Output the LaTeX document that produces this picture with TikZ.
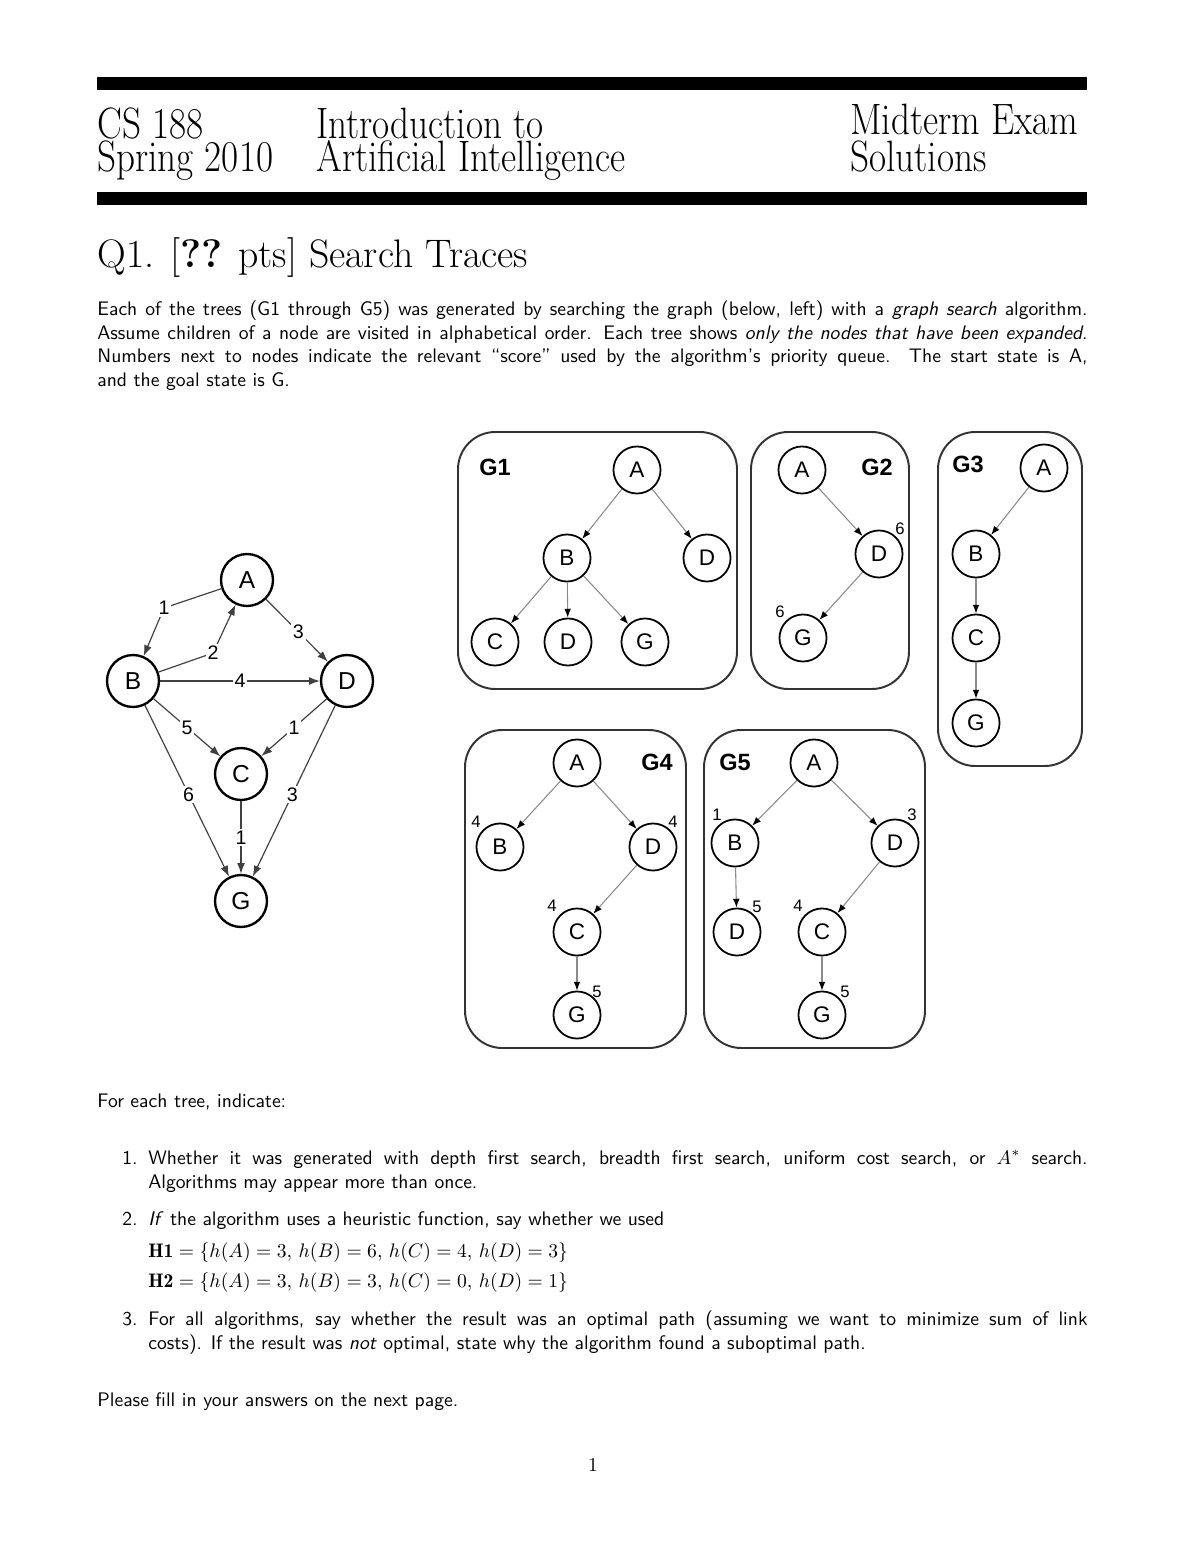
\documentclass[tikz,border=0pt]{standalone}
\usepackage{graphicx}
\usepackage{fontspec}
\newfontfamily\hv{Liberation Sans}
\usetikzlibrary{arrows.meta}
\newcommand\hdr[1]{\scalebox{0.845}[1]{\fontsize{22.4}{26}\selectfont #1}}
\begin{document}
\begin{tikzpicture}[x=0.51pt,y=-0.51pt,
  txt/.style={anchor=base west, inner sep=0, font=\sffamily\fontsize{10}{12}\selectfont},
  hd/.style={anchor=base west, inner sep=0},
  gn/.style={circle, draw=black, line width=1.2pt, minimum size=26.5pt, inner sep=0, font=\hv\fontsize{12.5}{12.5}\selectfont},
  tn/.style={circle, draw=black, line width=0.9pt, minimum size=24pt, inner sep=0, font=\hv\fontsize{11.5}{11.5}\selectfont},
  ge/.style={draw=black!75, line width=0.6pt, -{Latex[length=5.5pt,width=4pt]}},
  te/.style={draw=black!45, line width=0.55pt, -{Latex[length=4.5pt,width=3.4pt,color=black]}},
  lbl/.style={fill=white, inner sep=1pt, font=\hv\fontsize{10}{10}\selectfont},
  sc/.style={inner sep=0, font=\hv\fontsize{8.5}{8.5}\selectfont},
  gbox/.style={draw=black!80, line width=1pt, rounded corners=19pt},
  glab/.style={inner sep=0, font=\hv\bfseries\fontsize{12}{12}\selectfont}]
\useasboundingbox (0,0) rectangle (1200,1553);
\fill[white] (0,0) rectangle (1200,1553);

% header
\fill (97,77) rectangle (1087,90);
\fill (97,192) rectangle (1087,205);
\node[hd] (h1) at (97,139) {\hdr{CS 188}};
\node[hd] (h2) at (97,172) {\hdr{Spring 2010}};
\node[hd] (h3) at (316,139) {\hdr{Introduction to}};
\node[hd] (h4) at (316,172) {\hdr{Artificial Intelligence}};
\node[hd] (h5) at (850,135) {\hdr{Midterm Exam}};
\node[hd] (h6) at (850,172) {\hdr{Solutions}};

% title
\node[hd] (title) at (97,267) {\fontsize{20.3}{25}\selectfont Q1. [\textbf{??} pts] Search Traces};

% intro paragraph
\node[txt] (p1) at (97,315) {\hbox to 505pt{Each of the trees (G1 through G5) was generated by searching the graph (below, left) with a \textit{graph search} algorithm.}};
\node[txt] (p2) at (97,339) {\hbox to 505pt{Assume children of a node are visited in alphabetical order. Each tree shows \textit{only the nodes that have been expanded}.}};
\node[txt] (p3) at (97,362) {\hbox to 505pt{Numbers next to nodes indicate the relevant ``score'' used by the algorithm's priority queue. The start state is A,}};
\node[txt] (p4) at (97,386) {and the goal state is G.};

% left graph
\node[gn] (A) at (247,580) {A};
\node[gn] (B) at (133,681) {B};
\node[gn] (D) at (347,681) {D};
\node[gn] (C) at (241,774) {C};
\node[gn] (G) at (241,901) {G};
\coordinate (k1) at (164,608);
\coordinate (k2) at (213,653);
\draw[ge] (A) -- (k1) -- (B);
\node[lbl] (l1) at (k1) {1};
\draw[ge] (B) -- (k2) -- (A);
\node[lbl] (l2) at (k2) {2};
\draw[ge] (A) -- node[lbl, pos=0.52] (l3) {3} (D);
\draw[ge] (B) -- node[lbl, pos=0.5] (l4) {4} (D);
\draw[ge] (B) -- node[lbl, pos=0.5] (l5) {5} (C);
\draw[ge] (D) -- node[lbl, pos=0.5] (l6) {1} (C);
\draw[ge] (B) -- node[lbl, pos=0.52] (l7) {6} (G);
\draw[ge] (C) -- node[lbl, pos=0.5] (l8) {1} (G);
\draw[ge] (D) -- node[lbl, pos=0.52] (l9) {3} (G);

% G1
\draw[gbox] (458,432) rectangle (737,689);
\node[glab] (g1l) at (495,467) {G1};
\node[tn] (a1) at (637,470) {A};
\node[tn] (b1) at (567,558) {B};
\node[tn] (d1) at (707,558) {D};
\node[tn] (c1) at (495,642) {C};
\node[tn] (e1) at (568,642) {D};
\node[tn] (f1) at (645,642) {G};
\draw[te] (a1) -- (b1);
\draw[te] (a1) -- (d1);
\draw[te] (b1) -- (c1);
\draw[te] (b1) -- (e1);
\draw[te] (b1) -- (f1);

% G2
\draw[gbox] (751,432) rectangle (909,689);
\node[glab] (g2l) at (877,467) {G2};
\node[tn] (a2) at (802,470) {A};
\node[tn] (d2) at (879,554) {D};
\node[tn] (f2) at (803,638) {G};
\node[sc] (s21) at (900,529) {6};
\node[sc] (s22) at (780,612) {6};
\draw[te] (a2) -- (d2);
\draw[te] (d2) -- (f2);

% G3
\draw[gbox] (938,432) rectangle (1082,766);
\node[glab] (g3l) at (968,464) {G3};
\node[tn] (a3) at (1044,468) {A};
\node[tn] (b3) at (976,554) {B};
\node[tn] (c3) at (976,638) {C};
\node[tn] (f3) at (976,723) {G};
\draw[te] (a3) -- (b3);
\draw[te] (b3) -- (c3);
\draw[te] (c3) -- (f3);

% G4
\draw[gbox] (465,730) rectangle (686,1048);
\node[glab] (g4l) at (657,762) {G4};
\node[tn] (a4) at (577,763) {A};
\node[tn] (b4) at (500,847) {B};
\node[tn] (d4) at (653,847) {D};
\node[tn] (c4) at (577,932) {C};
\node[tn] (f4) at (577,1015) {G};
\node[sc] (s41) at (476,822) {4};
\node[sc] (s42) at (673,822) {4};
\node[sc] (s43) at (552,906) {4};
\node[sc] (s44) at (597,992) {5};
\draw[te] (a4) -- (b4);
\draw[te] (a4) -- (d4);
\draw[te] (d4) -- (c4);
\draw[te] (c4) -- (f4);

% G5
\draw[gbox] (704,730) rectangle (925,1048);
\node[glab] (g5l) at (735,762) {G5};
\node[tn] (a5) at (814,763) {A};
\node[tn] (b5) at (735,843) {B};
\node[tn] (d5) at (895,843) {D};
\node[tn] (e5) at (737,932) {D};
\node[tn] (c5) at (822,932) {C};
\node[tn] (f5) at (822,1015) {G};
\node[sc] (s51) at (717,815) {1};
\node[sc] (s52) at (912,815) {3};
\node[sc] (s53) at (757,907) {5};
\node[sc] (s54) at (798,906) {4};
\node[sc] (s55) at (845,992) {5};
\draw[te] (a5) -- (b5);
\draw[te] (a5) -- (d5);
\draw[te] (b5) -- (e5);
\draw[te] (d5) -- (c5);
\draw[te] (c5) -- (f5);

% questions
\node[txt] (q0) at (97,1107) {For each tree, indicate:};
\node[txt] (n1) at (122,1164) {1.};
\node[txt] (q1a) at (148,1164) {\hbox to 479pt{Whether it was generated with depth first search, breadth first search, uniform cost search, or $A^*$ search.}};
\node[txt] (q1b) at (148,1188) {Algorithms may appear more than once.};
\node[txt] (n2) at (122,1225) {2.};
\node[txt] (q2a) at (148,1225) {\textit{If} the algorithm uses a heuristic function, say whether we used};
\node[txt] (q2b) at (148,1257) {$\mathbf{H1} = \{h(A) = 3,\, h(B) = 6,\, h(C) = 4,\, h(D) = 3\}$};
\node[txt] (q2c) at (148,1287) {$\mathbf{H2} = \{h(A) = 3,\, h(B) = 3,\, h(C) = 0,\, h(D) = 1\}$};
\node[txt] (n3) at (122,1325) {3.};
\node[txt] (q3a) at (148,1325) {\hbox to 479pt{For all algorithms, say whether the result was an optimal path (assuming we want to minimize sum of link}};
\node[txt] (q3b) at (148,1349) {costs). If the result was \textit{not} optimal, state why the algorithm found a suboptimal path.};
\node[txt] (q4) at (97,1406) {Please fill in your answers on the next page.};

\node[anchor=base, inner sep=0, font=\fontsize{10}{12}\selectfont] (pg) at (593,1471) {1};
\end{tikzpicture}
\end{document}
